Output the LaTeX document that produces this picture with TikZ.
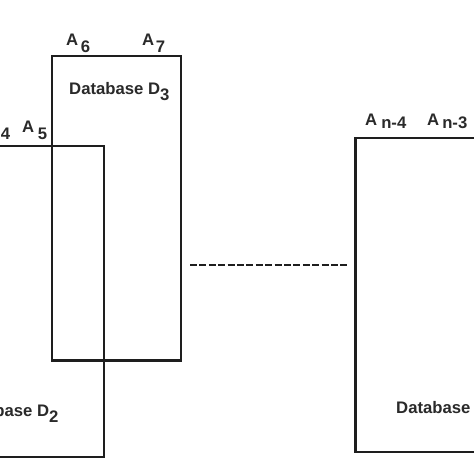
\documentclass[tikz,border=0pt]{standalone}
\usepackage{fontspec}
\setmainfont{Liberation Sans}
\begin{document}
\begin{tikzpicture}[x=1pt,y=-1pt,
  dbbox/.style={draw=boxcol, line width=2.7pt, rectangle, inner sep=0pt},
  lbl/.style={anchor=base west, inner sep=0pt, text=txtcol, font=\fontsize{16.7}{20}\selectfont\bfseries},
  dashline/.style={draw=boxcol, line width=2.6pt, dash pattern=on 7pt off 2.4pt}
]
\definecolor{boxcol}{HTML}{1E1E1E}
\definecolor{txtcol}{HTML}{2A2A2A}
\useasboundingbox (0,0) rectangle (474,474);
\clip (0,0) rectangle (474,474);
\fill[white] (0,0) rectangle (474,474);
% boxes
\node[dbbox, minimum width=164pt, minimum height=311pt] (d2) at (22,301.5) {};
\node[dbbox, minimum width=129pt, minimum height=304.5pt] (d3) at (116.5,208.2) {};
\node[dbbox, minimum width=190pt, minimum height=314pt] (dn) at (450.7,295) {};
% dashed connector
\coordinate (dl) at (190,265);
\coordinate (dr) at (347,265);
\draw[dashline] (dl) -- (dr);
% labels D3
\node[lbl] (a6) at (66,45) {A\kern2.5pt\raisebox{-7pt}{6}};
\node[lbl] (a7) at (142,45) {A\kern1.5pt\raisebox{-7pt}{7}};
\node[lbl] (t3) at (69,94) {Database D\raisebox{-6pt}{3}};
% labels D2
\node[lbl] (a4) at (-14,132) {A\kern2.5pt\raisebox{-7pt}{4}};
\node[lbl] (a5) at (22,132) {A\kern3.5pt\raisebox{-7pt}{5}};
\node[lbl] (t2) at (-42,416) {Database D\raisebox{-6pt}{2}};
% labels Dn
\node[lbl] (an4) at (365,125) {A\kern4pt\raisebox{-3.5pt}{n-4}};
\node[lbl] (an3) at (427,125) {A\kern3pt\raisebox{-3.5pt}{n-3}};
\node[lbl] (tn) at (396,413) {Database D\raisebox{-6pt}{n}};
\end{tikzpicture}
\end{document}
